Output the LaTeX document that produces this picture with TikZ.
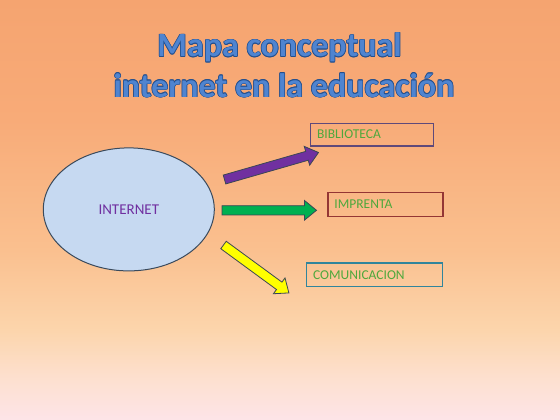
\documentclass[tikz,border=0pt]{standalone}
\usepackage{fontspec}
\setmainfont{Carlito}
\usetikzlibrary{calc,shapes.geometric}
\definecolor{bgA}{HTML}{F5A470}
\definecolor{bgB}{HTML}{F8AB78}
\definecolor{bgC}{HTML}{FAC08F}
\definecolor{bgD}{HTML}{FCD5AC}
\definecolor{bgE}{HTML}{FDE0D0}
\definecolor{bgF}{HTML}{FDE4E8}
\pgfdeclareverticalshading{slidebg}{100bp}{color(0bp)=(bgF); color(25bp)=(bgF); color(29.8bp)=(bgE); color(35.7bp)=(bgD); color(45.2bp)=(bgC); color(60.7bp)=(bgB); color(75bp)=(bgA); color(100bp)=(bgA)}
\definecolor{titlefill}{HTML}{4F84D0}
\definecolor{titleline}{HTML}{234F8E}
\definecolor{ellfill}{HTML}{C6D9F1}
\definecolor{ellline}{HTML}{3A4A5C}
\definecolor{inttext}{HTML}{7030A0}
\definecolor{boxtext}{HTML}{4EA83C}
\definecolor{boxA}{HTML}{5F497A}
\definecolor{boxB}{HTML}{943634}
\definecolor{boxC}{HTML}{31859C}
\definecolor{arrline}{HTML}{3A4654}
\definecolor{arrpurple}{HTML}{7030A0}
\definecolor{arrgreen}{HTML}{00B050}
\definecolor{arryellow}{HTML}{FFFF00}
\tikzset{
  titletxt/.style={font=\fontsize{34}{40}\selectfont\bfseries, inner sep=0pt, anchor=base},
  conceptbox/.style={draw, line width=1.3pt, rectangle, inner xsep=6.5pt, inner ysep=0pt, align=left, text=boxtext, font=\fontsize{13.5}{15}\selectfont, anchor=north west},
  blockarrow/.style={draw=arrline, line width=0.8pt, line join=miter},
}
\newcommand{\blockarr}[3]{%
  \draw[blockarrow,fill=#1] let \p1=($(#3)-(#2)$), \n1={atan2(\y1,\x1)}, \n2={veclen(\x1,\y1)} in
    [shift={(#2)}, rotate=\n1] (0,-4.6) -- (\n2-12,-4.6) -- (\n2-12,-9.8) -- (\n2,0) -- (\n2-12,9.8) -- (\n2-12,4.6) -- (0,4.6) -- cycle;}
\begin{document}
\begin{tikzpicture}[x=1pt,y=-1pt]
\useasboundingbox (0,0) rectangle (560,420);
\shade[shading=slidebg] (0,0) rectangle (560,420);
% title
\foreach \dx/\dy in {0.7/0,-0.7/0,0/0.7,0/-0.7,0.5/0.5,-0.5/0.5,0.5/-0.5,-0.5/-0.5}{
  \node[titletxt, text=titleline] at (279.5+\dx,57+\dy) {Mapa conceptual};
  \node[titletxt, text=titleline] at (284+\dx,97+\dy) {internet en la educación};
}
\node[titletxt, text=titlefill] (title1) at (279.5,57) {Mapa conceptual};
\node[titletxt, text=titlefill] (title2) at (284,97) {internet en la educación};
% central ellipse
\node[ellipse, draw=ellline, line width=1pt, fill=ellfill, minimum width=171pt, minimum height=123pt, inner sep=0pt, text=inttext, font=\fontsize{15}{17}\selectfont] (internet) at (128.8,209.4) {INTERNET};
% boxes
\node[conceptbox, draw=boxA, minimum width=123pt, minimum height=22.5pt, text width=110pt] (bib) at (310,122.7) {BIBLIOTECA};
\node[conceptbox, draw=boxB, minimum width=115pt, minimum height=24pt, text width=102pt] (imp) at (327.3,191.7) {IMPRENTA};
\node[conceptbox, draw=boxC, minimum width=136pt, minimum height=23.5pt, text width=123pt] (com) at (306,262.3) {COMUNICACION};
% arrow endpoints
\coordinate (pA) at (224.5,179.5);
\coordinate (pB) at (318.5,152.5);
\coordinate (gA) at (222,210.3);
\coordinate (gB) at (316.5,210.3);
\coordinate (yA) at (223.5,245);
\coordinate (yB) at (289,293);
\blockarr{arrpurple}{pA}{pB}
\blockarr{arrgreen}{gA}{gB}
\blockarr{arryellow}{yA}{yB}
\end{tikzpicture}
\end{document}
